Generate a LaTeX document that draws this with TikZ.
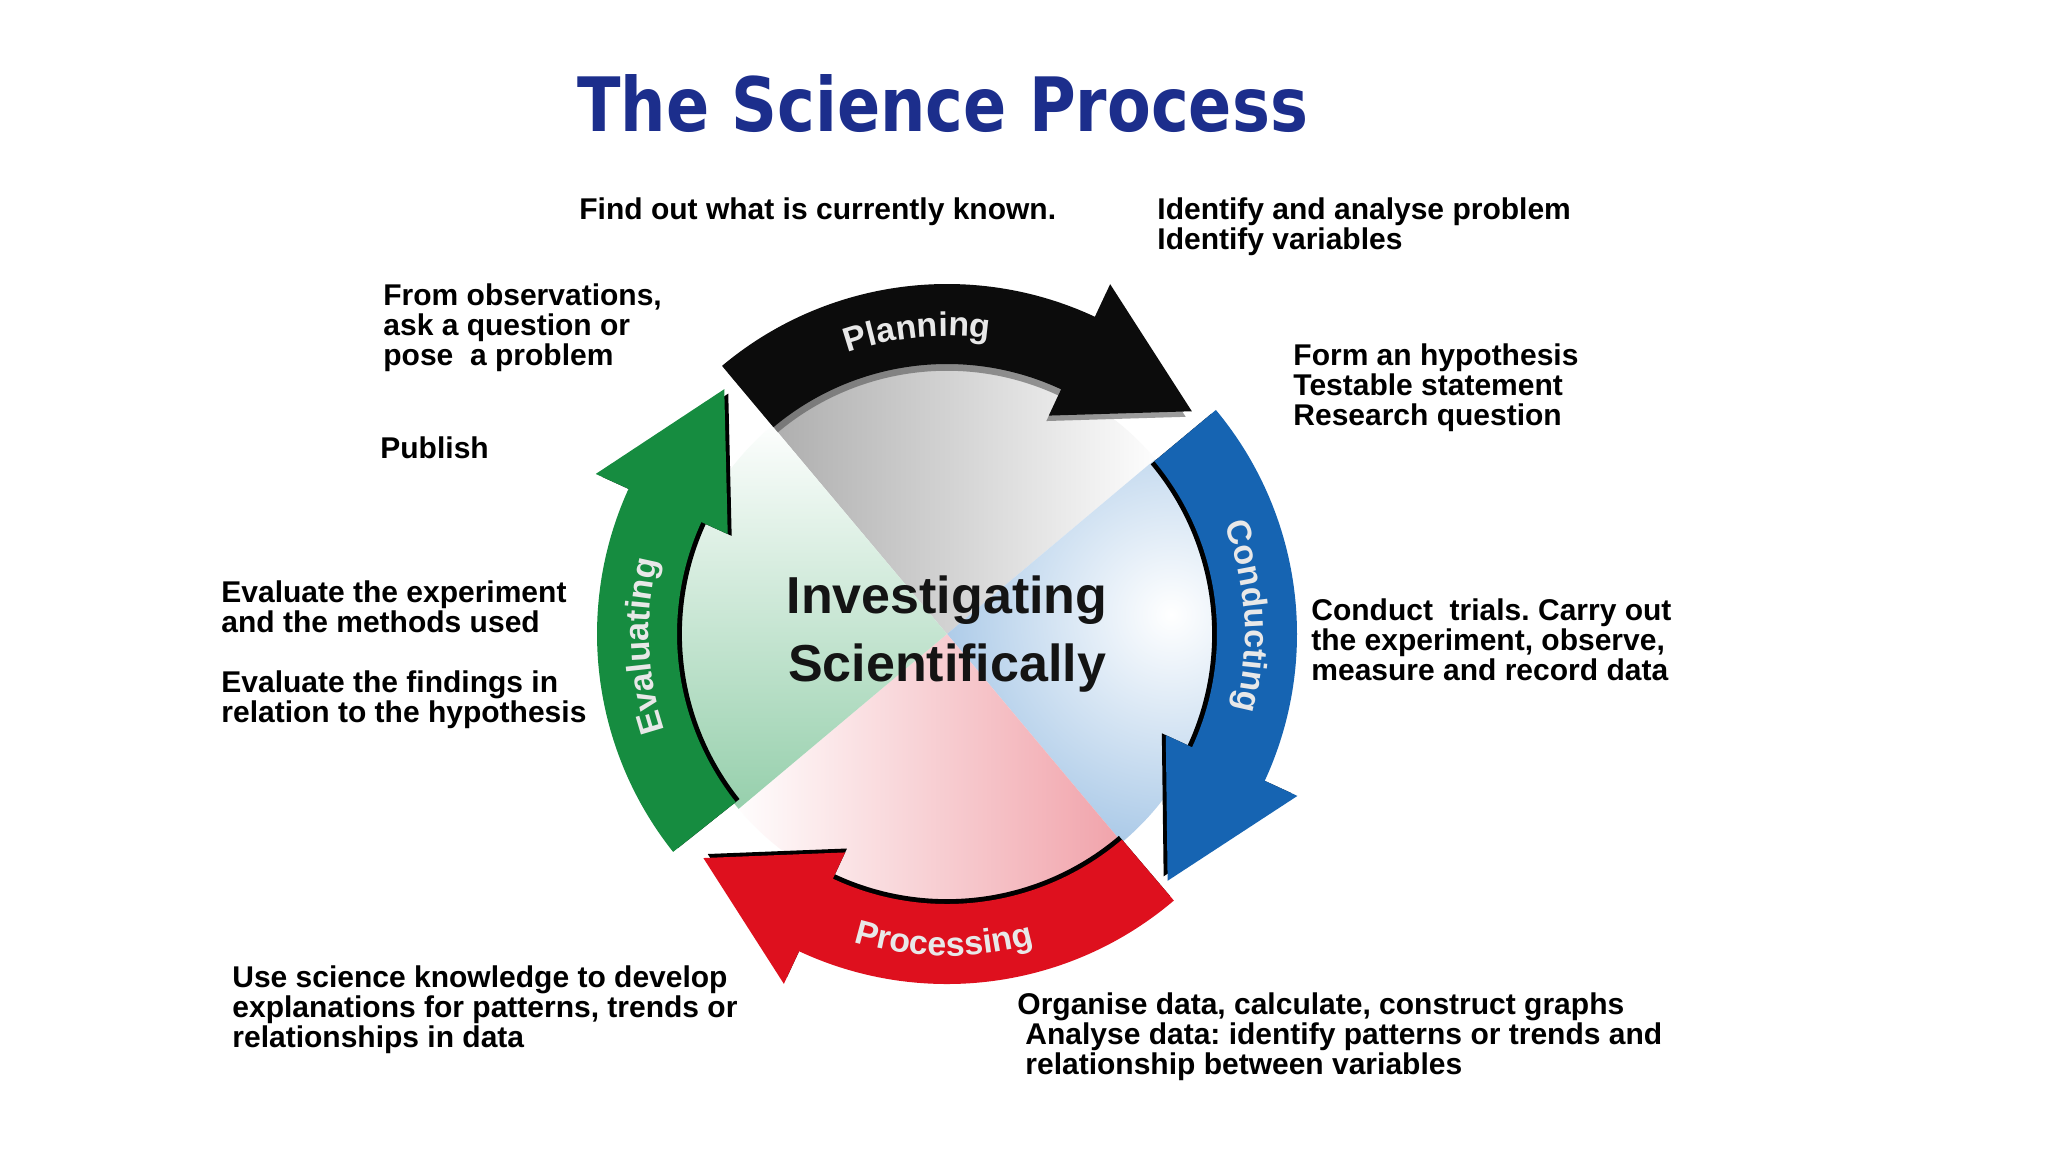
\documentclass[tikz,border=0pt]{standalone}
\usepackage{fontspec}
\setmainfont{Liberation Sans}
\newfontfamily\titlefont{DejaVu Sans}[FakeStretch=0.85]
\usetikzlibrary{decorations.text}
\frenchspacing

\definecolor{titleblue}{RGB}{28,46,140}
\definecolor{planblack}{RGB}{12,12,12}
\definecolor{condblue}{RGB}{22,100,178}
\definecolor{procred}{RGB}{222,16,30}
\definecolor{evalgreen}{RGB}{22,140,64}
\definecolor{labelgray}{RGB}{232,232,232}
\definecolor{secgray}{RGB}{170,170,170}
\definecolor{secblue}{RGB}{165,198,230}
\definecolor{secred}{RGB}{240,158,166}
\definecolor{secgreen}{RGB}{145,205,168}

\newcommand{\bodyfont}{\bfseries\fontsize{15pt}{15pt}\selectfont}
\newcommand{\labelfont}{\bfseries\fontsize{17pt}{17pt}\selectfont}

% arrow shape: tail angle, head base angle, tip angle, options
\newcommand{\scarrow}[4]{%
  \fill[#4] (#1:350) arc[start angle=#1, end angle=#2, radius=350]
    -- (#2:386) -- (#3:331) -- (#2:241) -- (#2:270)
    arc[start angle=#2, end angle=#1, radius=270] -- cycle;}

\begin{document}
\begin{tikzpicture}[x=0.5pt,y=0.5pt,
  bodytext/.style={anchor=base west, inner sep=0pt, font=\bodyfont, text=black},
  arrowshadow/.style={black, scale=0.982},
  softshadow/.style={black!70, opacity=0.55, scale=0.975},
  arclabel/.style={decorate, decoration={text along path, text align=center, text color=labelgray, text={|\labelfont|#1}}}
]
\useasboundingbox (0,0) rectangle (2048,-1152);
\fill[white] (0,0) rectangle (2048,-1152);

\node[anchor=base west, inner sep=0pt, text=titleblue,
  font=\titlefont\bfseries\fontsize{37.5pt}{40pt}\selectfont] (title) at (577,-131) {The Science Process};

\begin{scope}[shift={(947,-634)}]
  % sectors of the inner disc
  \begin{scope}
    \clip (0,0) -- (40:272) arc[start angle=40, end angle=130, radius=272] -- cycle;
    \begin{scope}[rotate=-5]
      \shade[left color=secgray, right color=white] (-195,-5) rectangle (195,275);
    \end{scope}
  \end{scope}
  \begin{scope}
    \clip (0,0) -- (-50:272) arc[start angle=-50, end angle=40, radius=272] -- cycle;
    \shade[inner color=white, outer color=secblue] (5:225) circle[radius=250];
  \end{scope}
  \begin{scope}
    \clip (0,0) -- (-140:272) arc[start angle=-140, end angle=-50, radius=272] -- cycle;
    \begin{scope}[rotate=-5]
      \shade[left color=white, right color=secred] (-195,-275) rectangle (195,5);
    \end{scope}
  \end{scope}
  \begin{scope}
    \clip (0,0) -- (130:272) arc[start angle=130, end angle=220, radius=272] -- cycle;
    \begin{scope}[rotate=-5]
      \shade[top color=white, bottom color=secgreen] (-275,-195) rectangle (5,195);
    \end{scope}
  \end{scope}

  % arrows
  \scarrow{130}{65}{42.3}{softshadow}
  \scarrow{130}{65}{42.3}{planblack}
  \scarrow{39.8}{-24.8}{-48.2}{arrowshadow}
  \scarrow{39.8}{-24.8}{-48.2}{condblue}
  \scarrow{-49.6}{-115}{-137.4}{arrowshadow}
  \scarrow{-49.6}{-115}{-137.4}{procred}
  \scarrow{218.5}{155.5}{132.3}{arrowshadow}
  \scarrow{218.5}{155.5}{132.3}{evalgreen}

  % labels on arrows
  \path[arclabel=Planning] (135.6:298) arc[start angle=135.6, end angle=55.6, radius=298];
  \path[arclabel=Conducting] (43.4:298) arc[start angle=43.4, end angle=-36.6, radius=298];
  \path[arclabel=Processing] (-130.6:322) arc[start angle=-130.6, end angle=-50.6, radius=322];
  \path[arclabel=Evaluating] (222.3:298) arc[start angle=222.3, end angle=142.3, radius=298];

  \node[align=center, text=black!92, font=\bfseries\fontsize{26pt}{34pt}\selectfont] (centre) at (0,0) {Investigating\\Scientifically};
\end{scope}

\node[bodytext] (known) at (579,-219) {Find out what is currently known.};
\node[bodytext] (identify) at (1157,-219) {\vtop{\hbox{Identify and analyse problem}\hbox{Identify variables}}};
\node[bodytext] (observe) at (383,-305) {\vtop{\hbox{From observations,}\hbox{ask a question or}\hbox{pose\ \ a problem}}};
\node[bodytext] (hypo) at (1293,-365) {\vtop{\hbox{Form an hypothesis}\hbox{Testable statement}\hbox{Research question}}};
\node[bodytext] (publish) at (380,-458) {Publish};
\node[bodytext] (evalexp) at (221,-602) {\vtop{\hbox{Evaluate the experiment}\hbox{and the methods used}}};
\node[bodytext] (evalfind) at (221,-692) {\vtop{\hbox{Evaluate the findings in}\hbox{relation to the hypothesis}}};
\node[bodytext] (conduct) at (1311,-620) {\vtop{\hbox{Conduct\ \ trials. Carry out}\hbox{the experiment, observe,}\hbox{measure and record data}}};
\node[bodytext] (usesci) at (232,-987) {\vtop{\hbox{Use science knowledge to develop}\hbox{explanations for patterns, trends or}\hbox{relationships in data}}};
\node[bodytext] (organise) at (1017,-1014) {\vtop{\hbox{Organise data, calculate, construct graphs}\hbox{\kern4pt Analyse data: identify patterns or trends and}\hbox{\kern4pt relationship between variables}}};
\end{tikzpicture}
\end{document}
